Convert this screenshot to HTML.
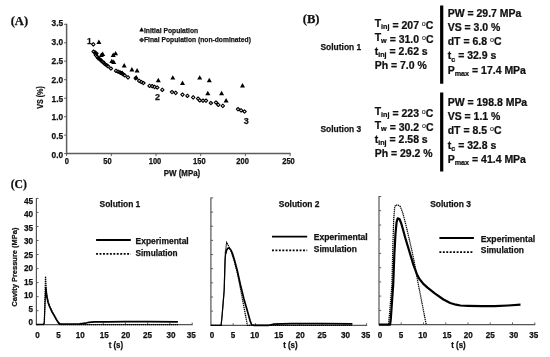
<!DOCTYPE html>
<html><head><meta charset="utf-8"><title>Figure</title>
<style>
html,body{margin:0;padding:0;background:#fff}
svg{display:block}
text{font-family:"Liberation Sans",sans-serif;font-weight:bold;fill:#111;stroke:#111;stroke-width:.25px}
text.se{font-family:"Liberation Serif",serif}
</style></head><body>
<svg width="550" height="357" viewBox="0 0 550 357">
<rect width="550" height="357" fill="#fff"/>
<!-- Panel A -->
<text x="10.7" y="25.1" font-size="13.0" textLength="17.4" lengthAdjust="spacingAndGlyphs" class="se">(A)</text>
<g stroke="#5c5c5c" stroke-width="1.5" fill="none">
<path d="M66.6 23.810000000000002V153.6H290.6"/>
<path stroke-width="1" d="M64.1 153.6H66.6M64.1 135.1H66.6M64.1 116.7H66.6M64.1 98.2H66.6M64.1 79.7H66.6M64.1 61.2H66.6M64.1 42.8H66.6M64.1 24.3H66.6M66.6 153.6V156.1M111.3 153.6V156.1M156.0 153.6V156.1M200.7 153.6V156.1M245.4 153.6V156.1M290.1 153.6V156.1"/>
</g>
<text x="63.2" y="158.0" font-size="8.5" text-anchor="end" textLength="11.6" lengthAdjust="spacingAndGlyphs">0.0</text>
<text x="63.2" y="139.2" font-size="8.5" text-anchor="end" textLength="11.6" lengthAdjust="spacingAndGlyphs">0.5</text>
<text x="63.2" y="120.3" font-size="8.5" text-anchor="end" textLength="11.6" lengthAdjust="spacingAndGlyphs">1.0</text>
<text x="63.2" y="101.5" font-size="8.5" text-anchor="end" textLength="11.6" lengthAdjust="spacingAndGlyphs">1.5</text>
<text x="63.2" y="82.6" font-size="8.5" text-anchor="end" textLength="11.6" lengthAdjust="spacingAndGlyphs">2.0</text>
<text x="63.2" y="63.8" font-size="8.5" text-anchor="end" textLength="11.6" lengthAdjust="spacingAndGlyphs">2.5</text>
<text x="63.2" y="45.0" font-size="8.5" text-anchor="end" textLength="11.6" lengthAdjust="spacingAndGlyphs">3.0</text>
<text x="63.2" y="26.1" font-size="8.5" text-anchor="end" textLength="11.6" lengthAdjust="spacingAndGlyphs">3.5</text>
<text x="66.8" y="164.3" font-size="8.5" text-anchor="middle" textLength="4.2" lengthAdjust="spacingAndGlyphs">0</text>
<text x="107.5" y="164.3" font-size="8.5" text-anchor="middle" textLength="8.4" lengthAdjust="spacingAndGlyphs">50</text>
<text x="155" y="164.3" font-size="8.5" text-anchor="middle" textLength="12.6" lengthAdjust="spacingAndGlyphs">100</text>
<text x="199.3" y="164.3" font-size="8.5" text-anchor="middle" textLength="12.6" lengthAdjust="spacingAndGlyphs">150</text>
<text x="242.6" y="164.3" font-size="8.5" text-anchor="middle" textLength="12.6" lengthAdjust="spacingAndGlyphs">200</text>
<text x="288.5" y="164.3" font-size="8.5" text-anchor="middle" textLength="12.6" lengthAdjust="spacingAndGlyphs">250</text>
<text x="182" y="175.6" font-size="8.5" text-anchor="middle" textLength="36.4" lengthAdjust="spacingAndGlyphs">PW (MPa)</text>
<text transform="translate(43.2 97.5) rotate(-90)" font-size="8.5" text-anchor="middle" textLength="22.5" lengthAdjust="spacingAndGlyphs">VS (%)</text>
<path d="M141.6 27.2l2.3 4.2h-4.6z" fill="#000"/>
<path d="M141.6 37.9l2 2.1l-2 2.1l-2-2.1z" fill="#444" stroke="#000" stroke-width=".8"/>
<text x="144" y="33.2" font-size="8.1" textLength="54.2" lengthAdjust="spacingAndGlyphs">Initial Population</text>
<text x="144" y="42.2" font-size="8.1" textLength="106.9" lengthAdjust="spacingAndGlyphs">Final Population (non-dominated)</text>
<path d="M93.3 42.7l1.7 1.7l-1.7 1.7l-1.7-1.7zM93.6 50.0l1.7 1.7l-1.7 1.7l-1.7-1.7zM95.3 50.8l1.7 1.7l-1.7 1.7l-1.7-1.7zM96.4 51.8l1.7 1.7l-1.7 1.7l-1.7-1.7zM95.7 53.2l1.7 1.7l-1.7 1.7l-1.7-1.7zM97.1 55.0l1.7 1.7l-1.7 1.7l-1.7-1.7zM98.1 56.5l1.7 1.7l-1.7 1.7l-1.7-1.7zM99.5 57.4l1.7 1.7l-1.7 1.7l-1.7-1.7zM100.9 58.4l1.7 1.7l-1.7 1.7l-1.7-1.7zM102.0 59.8l1.7 1.7l-1.7 1.7l-1.7-1.7zM103.7 60.9l1.7 1.7l-1.7 1.7l-1.7-1.7zM104.8 62.3l1.7 1.7l-1.7 1.7l-1.7-1.7zM106.5 63.5l1.7 1.7l-1.7 1.7l-1.7-1.7zM107.9 64.4l1.7 1.7l-1.7 1.7l-1.7-1.7zM110.9 66.8l1.7 1.7l-1.7 1.7l-1.7-1.7zM116.0 69.1l1.7 1.7l-1.7 1.7l-1.7-1.7zM118.1 70.0l1.7 1.7l-1.7 1.7l-1.7-1.7zM120.0 70.7l1.7 1.7l-1.7 1.7l-1.7-1.7zM121.6 71.5l1.7 1.7l-1.7 1.7l-1.7-1.7zM123.0 72.4l1.7 1.7l-1.7 1.7l-1.7-1.7zM124.7 73.6l1.7 1.7l-1.7 1.7l-1.7-1.7zM128.0 75.7l1.7 1.7l-1.7 1.7l-1.7-1.7zM135.7 76.4l1.7 1.7l-1.7 1.7l-1.7-1.7zM139.2 79.2l1.7 1.7l-1.7 1.7l-1.7-1.7zM141.3 80.3l1.7 1.7l-1.7 1.7l-1.7-1.7zM143.4 81.3l1.7 1.7l-1.7 1.7l-1.7-1.7zM149.5 84.1l1.7 1.7l-1.7 1.7l-1.7-1.7zM152.2 84.5l1.7 1.7l-1.7 1.7l-1.7-1.7zM154.5 85.2l1.7 1.7l-1.7 1.7l-1.7-1.7zM157.2 85.8l1.7 1.7l-1.7 1.7l-1.7-1.7zM162.3 88.1l1.7 1.7l-1.7 1.7l-1.7-1.7zM172.0 90.3l1.7 1.7l-1.7 1.7l-1.7-1.7zM175.7 91.2l1.7 1.7l-1.7 1.7l-1.7-1.7zM182.5 93.0l1.7 1.7l-1.7 1.7l-1.7-1.7zM187.4 94.1l1.7 1.7l-1.7 1.7l-1.7-1.7zM193.2 95.7l1.7 1.7l-1.7 1.7l-1.7-1.7zM198.1 97.0l1.7 1.7l-1.7 1.7l-1.7-1.7zM199.7 98.6l1.7 1.7l-1.7 1.7l-1.7-1.7zM203.0 99.0l1.7 1.7l-1.7 1.7l-1.7-1.7zM206.0 99.0l1.7 1.7l-1.7 1.7l-1.7-1.7zM210.9 101.3l1.7 1.7l-1.7 1.7l-1.7-1.7zM216.0 100.8l1.7 1.7l-1.7 1.7l-1.7-1.7zM218.3 103.1l1.7 1.7l-1.7 1.7l-1.7-1.7zM222.8 104.2l1.7 1.7l-1.7 1.7l-1.7-1.7zM238.0 107.5l1.7 1.7l-1.7 1.7l-1.7-1.7zM241.1 108.7l1.7 1.7l-1.7 1.7l-1.7-1.7zM244.5 109.8l1.7 1.7l-1.7 1.7l-1.7-1.7z" fill="#fff" stroke="#000" stroke-width="1.1" stroke-linejoin="round"/>
<path d="M98.9 39.6l2.5 4.4h-5zM102.7 51.6l2.5 4.4h-5zM101.3 52.6l2.5 4.4h-5zM115.6 50.9l2.5 4.4h-5zM113.2 52.6l2.5 4.4h-5zM111.8 58.7l2.5 4.4h-5zM113.7 59.6l2.5 4.4h-5zM124.2 63.1l2.5 4.4h-5zM131.9 67.1l2.5 4.4h-5zM137.1 68.0l2.5 4.4h-5zM136.4 75.1l2.5 4.4h-5zM122.3 70.4l2.5 4.4h-5zM158.3 77.8l2.5 4.4h-5zM172.8 75.2l2.5 4.4h-5zM182.5 80.5l2.5 4.4h-5zM199.7 75.2l2.5 4.4h-5zM209.3 77.8l2.5 4.4h-5zM207.8 90.8l2.5 4.4h-5zM221.6 90.8l2.5 4.4h-5zM226.1 98.0l2.5 4.4h-5zM242.5 83.0l2.5 4.4h-5z" fill="#000"/>
<text x="89.3" y="43.7" font-size="8.4" text-anchor="middle">1</text>
<text x="157.4" y="99.7" font-size="9" text-anchor="middle">2</text>
<text x="246.3" y="123.6" font-size="9" text-anchor="middle">3</text>
<!-- Panel B -->
<text x="302.7" y="23.1" font-size="12.9" textLength="16.8" lengthAdjust="spacingAndGlyphs" class="se">(B)</text>
<path d="M441.7 5.6V83.8M441.7 92.4V171.6" stroke="#000" stroke-width="3.2"/>
<text x="320.5" y="49.6" font-size="9.6" textLength="40.7" lengthAdjust="spacingAndGlyphs">Solution 1</text>
<text x="320.5" y="131.6" font-size="9.6" textLength="40.7" lengthAdjust="spacingAndGlyphs">Solution 3</text>
<text transform="translate(374.7 26.7) scale(0.99 1)" font-size="10.6">T<tspan font-size="7.3" dy="2.4">inj</tspan><tspan dy="-2.4"></tspan> = 207 <tspan font-size="7.2" font-weight="normal" stroke-width=".1" dy="-3.5">o</tspan><tspan dy="3.5">C</tspan></text>
<text transform="translate(374.7 40.7) scale(0.99 1)" font-size="10.6">T<tspan font-size="7.3" dy="2.4">w</tspan><tspan dy="-2.4"></tspan> = 31.0 <tspan font-size="7.2" font-weight="normal" stroke-width=".1" dy="-3.5">o</tspan><tspan dy="3.5">C</tspan></text>
<text transform="translate(374.7 54.7) scale(0.99 1)" font-size="10.6">t<tspan font-size="7.3" dy="2.4">inj</tspan><tspan dy="-2.4"> = 2.62 s</tspan></text>
<text transform="translate(374.7 68.7) scale(0.99 1)" font-size="10.6">Ph = 7.0 %</text>
<text transform="translate(447.7 16.5) scale(0.99 1)" font-size="10.6">PW = 29.7 MPa</text>
<text transform="translate(447.7 30.8) scale(0.99 1)" font-size="10.6">VS = 3.0 %</text>
<text transform="translate(447.7 45.1) scale(0.99 1)" font-size="10.6">dT = 6.8 <tspan font-size="7.2" font-weight="normal" stroke-width=".1" dy="-3.5">o</tspan><tspan dy="3.5">C</tspan></text>
<text transform="translate(447.7 59.4) scale(0.99 1)" font-size="10.6">t<tspan font-size="7.3" dy="2.4">c</tspan><tspan dy="-2.4"> = 32.9 s</tspan></text>
<text transform="translate(447.7 73.7) scale(0.99 1)" font-size="10.6">P<tspan font-size="7.3" dy="2.4">max</tspan><tspan dy="-2.4"> = 17.4 MPa</tspan></text>
<text transform="translate(374.7 115) scale(0.99 1)" font-size="10.6">T<tspan font-size="7.3" dy="2.4">inj</tspan><tspan dy="-2.4"></tspan> = 223 <tspan font-size="7.2" font-weight="normal" stroke-width=".1" dy="-3.5">o</tspan><tspan dy="3.5">C</tspan></text>
<text transform="translate(374.7 128.9) scale(0.99 1)" font-size="10.6">T<tspan font-size="7.3" dy="2.4">w</tspan><tspan dy="-2.4"></tspan> = 30.2 <tspan font-size="7.2" font-weight="normal" stroke-width=".1" dy="-3.5">o</tspan><tspan dy="3.5">C</tspan></text>
<text transform="translate(374.7 142.9) scale(0.99 1)" font-size="10.6">t<tspan font-size="7.3" dy="2.4">inj</tspan><tspan dy="-2.4"> = 2.58 s</tspan></text>
<text transform="translate(374.7 156.8) scale(0.99 1)" font-size="10.6">Ph = 29.2 %</text>
<text transform="translate(447.7 105.9) scale(0.99 1)" font-size="10.6">PW = 198.8 MPa</text>
<text transform="translate(447.7 120.1) scale(0.99 1)" font-size="10.6">VS = 1.1 %</text>
<text transform="translate(447.7 134.3) scale(0.99 1)" font-size="10.6">dT = 8.5 <tspan font-size="7.2" font-weight="normal" stroke-width=".1" dy="-3.5">o</tspan><tspan dy="3.5">C</tspan></text>
<text transform="translate(447.7 148.5) scale(0.99 1)" font-size="10.6">t<tspan font-size="7.3" dy="2.4">c</tspan><tspan dy="-2.4"> = 32.8 s</tspan></text>
<text transform="translate(447.7 162.7) scale(0.99 1)" font-size="10.6">P<tspan font-size="7.3" dy="2.4">max</tspan><tspan dy="-2.4"> = 41.4 MPa</tspan></text>
<!-- Panel C -->
<text x="10.7" y="187.5" font-size="13.0" textLength="16.3" lengthAdjust="spacingAndGlyphs" class="se">(C)</text>
<g stroke="#555" stroke-width="1.2" fill="none">
<path d="M36.4 197.9V324.7H192.7"/>
<path stroke-width=".9" d="M36.4 324.7h2.2M36.4 310.7h2.2M36.4 296.6h2.2M36.4 282.6h2.2M36.4 268.6h2.2M36.4 254.5h2.2M36.4 240.5h2.2M36.4 226.5h2.2M36.4 212.4h2.2M36.4 198.4h2.2M58.6 324.7v-2.2M80.9 324.7v-2.2M103.2 324.7v-2.2M125.4 324.7v-2.2M147.7 324.7v-2.2M169.9 324.7v-2.2M192.2 324.7v-2.2"/>
</g>
<path d="M36.4 324.7 L43.5 324.7 L44.4 321.9 L45.5 276.4 L46.6 293.8 L48.0 301.7 L49.8 306.5 L52.0 311.2 L54.2 315.2 L56.4 319.1 L58.6 322.7 L60.0 324.7 L177.9 324.7" fill="none" stroke="#000" stroke-width="1.25" stroke-dasharray="1.3 .7"/>
<path d="M36.4 324.3 L43.5 324.3 L44.2 323.3 L45.1 302.2 L45.7 288.2" fill="none" stroke="#000" stroke-width="1.15" stroke-linejoin="round"/>
<path d="M45.7 288.2 L46.6 295.2 L48.0 302.2 L49.8 307.0 L52.0 311.8 L54.2 315.7 L56.4 319.6 L58.6 323.0 L60.4 324.0 L63.1 324.1 L78.7 324.0 L82.2 323.7 L85.3 323.2 L88.9 322.3 L94.2 321.9 L107.6 321.8 L125.4 321.6 L147.7 321.6 L177.9 321.8" fill="none" stroke="#000" stroke-width="1.7" stroke-linejoin="round"/>
<text x="37.4" y="338.0" font-size="8.3" text-anchor="middle" textLength="4.5" lengthAdjust="spacingAndGlyphs">0</text>
<text x="58.4" y="338.0" font-size="8.3" text-anchor="middle" textLength="4.5" lengthAdjust="spacingAndGlyphs">5</text>
<text x="80.2" y="338.0" font-size="8.3" text-anchor="middle" textLength="9.0" lengthAdjust="spacingAndGlyphs">10</text>
<text x="104.3" y="338.0" font-size="8.3" text-anchor="middle" textLength="9.0" lengthAdjust="spacingAndGlyphs">15</text>
<text x="125.7" y="338.0" font-size="8.3" text-anchor="middle" textLength="9.0" lengthAdjust="spacingAndGlyphs">20</text>
<text x="147.6" y="338.0" font-size="8.3" text-anchor="middle" textLength="9.0" lengthAdjust="spacingAndGlyphs">25</text>
<text x="171.1" y="338.0" font-size="8.3" text-anchor="middle" textLength="9.0" lengthAdjust="spacingAndGlyphs">30</text>
<text x="191.2" y="338.0" font-size="8.3" text-anchor="middle" textLength="9.0" lengthAdjust="spacingAndGlyphs">35</text>
<text x="115.9" y="348.0" font-size="8.2" text-anchor="middle" textLength="14.5" lengthAdjust="spacingAndGlyphs">t (s)</text>
<text x="33.0" y="325.2" font-size="8.3" text-anchor="end" textLength="4.5" lengthAdjust="spacingAndGlyphs">0</text>
<text x="33.0" y="311.7" font-size="8.3" text-anchor="end" textLength="4.5" lengthAdjust="spacingAndGlyphs">5</text>
<text x="33.0" y="298.2" font-size="8.3" text-anchor="end" textLength="9.1" lengthAdjust="spacingAndGlyphs">10</text>
<text x="33.0" y="284.8" font-size="8.3" text-anchor="end" textLength="9.1" lengthAdjust="spacingAndGlyphs">15</text>
<text x="33.0" y="271.3" font-size="8.3" text-anchor="end" textLength="9.1" lengthAdjust="spacingAndGlyphs">20</text>
<text x="33.0" y="257.8" font-size="8.3" text-anchor="end" textLength="9.1" lengthAdjust="spacingAndGlyphs">25</text>
<text x="33.0" y="244.3" font-size="8.3" text-anchor="end" textLength="9.1" lengthAdjust="spacingAndGlyphs">30</text>
<text x="33.0" y="230.8" font-size="8.3" text-anchor="end" textLength="9.1" lengthAdjust="spacingAndGlyphs">35</text>
<text x="33.0" y="217.4" font-size="8.3" text-anchor="end" textLength="9.1" lengthAdjust="spacingAndGlyphs">40</text>
<text x="33.0" y="203.9" font-size="8.3" text-anchor="end" textLength="9.1" lengthAdjust="spacingAndGlyphs">45</text>
<text x="99.6" y="206.5" font-size="9.2" textLength="40.7" lengthAdjust="spacingAndGlyphs">Solution 1</text>
<path d="M96.1 240.1H130.8" stroke="#000" stroke-width="2.0"/>
<path d="M96.1 253.8H130.8" stroke="#000" stroke-width="1.7" stroke-dasharray="1.9 1.55"/>
<text x="135.6" y="243.7" font-size="8.6" textLength="53.1" lengthAdjust="spacingAndGlyphs">Experimental</text>
<text x="135.6" y="255.5" font-size="8.6" textLength="42" lengthAdjust="spacingAndGlyphs">Simulation</text>
<g stroke="#555" stroke-width="1.2" fill="none">
<path d="M210.9 197.4V325.3H367.1"/>
<path stroke-width=".9" d="M210.9 325.3h2.2M210.9 311.1h2.2M210.9 297.0h2.2M210.9 282.8h2.2M210.9 268.7h2.2M210.9 254.5h2.2M210.9 240.4h2.2M210.9 226.2h2.2M210.9 212.1h2.2M210.9 197.9h2.2M233.2 325.3v-2.2M255.4 325.3v-2.2M277.6 325.3v-2.2M299.9 325.3v-2.2M322.1 325.3v-2.2M344.4 325.3v-2.2M366.6 325.3v-2.2"/>
</g>
<path d="M210.9 325.3 L221.1 325.3 L222.0 316.8 L224.2 289.9 L224.8 268.7 L225.4 251.7 L226.7 242.6 L228.3 245.5 L230.9 250.8 L234.0 260.2 L237.6 274.3 L239.8 285.1 L243.4 304.1 L247.4 325.3 L352.4 325.3" fill="none" stroke="#000" stroke-width="1.25" stroke-dasharray="1.3 .7"/>
<path d="M210.9 325.3 L221.1 325.3 L222.0 316.8 L224.2 289.9 L224.8 268.7 L225.1 259.3 L225.7 253.7" fill="none" stroke="#000" stroke-width="1.15" stroke-linejoin="round"/>
<path d="M225.7 253.7 L226.5 250.3 L227.8 248.3 L229.1 248.0 L230.9 250.0 L232.7 254.2 L234.5 260.2 L237.2 270.1 L240.3 284.2 L243.8 298.4 L247.4 311.1 L250.1 320.8 L251.6 324.7 L253.6 325.3 L268.8 325.3 L273.2 324.2 L291.0 323.6 L322.1 323.6 L352.4 323.9" fill="none" stroke="#000" stroke-width="1.7" stroke-linejoin="round"/>
<text x="211.9" y="338.0" font-size="8.3" text-anchor="middle" textLength="4.5" lengthAdjust="spacingAndGlyphs">0</text>
<text x="232.9" y="338.0" font-size="8.3" text-anchor="middle" textLength="4.5" lengthAdjust="spacingAndGlyphs">5</text>
<text x="254.7" y="338.0" font-size="8.3" text-anchor="middle" textLength="9.0" lengthAdjust="spacingAndGlyphs">10</text>
<text x="278.8" y="338.0" font-size="8.3" text-anchor="middle" textLength="9.0" lengthAdjust="spacingAndGlyphs">15</text>
<text x="300.2" y="338.0" font-size="8.3" text-anchor="middle" textLength="9.0" lengthAdjust="spacingAndGlyphs">20</text>
<text x="322.1" y="338.0" font-size="8.3" text-anchor="middle" textLength="9.0" lengthAdjust="spacingAndGlyphs">25</text>
<text x="345.6" y="338.0" font-size="8.3" text-anchor="middle" textLength="9.0" lengthAdjust="spacingAndGlyphs">30</text>
<text x="365.7" y="338.0" font-size="8.3" text-anchor="middle" textLength="9.0" lengthAdjust="spacingAndGlyphs">35</text>
<text x="290.4" y="348.0" font-size="8.2" text-anchor="middle" textLength="14.5" lengthAdjust="spacingAndGlyphs">t (s)</text>
<text x="278.8" y="206.5" font-size="9.2" textLength="40.7" lengthAdjust="spacingAndGlyphs">Solution 2</text>
<path d="M272 236.6H307.2" stroke="#000" stroke-width="1.8"/>
<path d="M272 250.3H307.2" stroke="#000" stroke-width="1.7" stroke-dasharray="1.9 1.55"/>
<text x="313.8" y="240.4" font-size="8.8" textLength="53.9" lengthAdjust="spacingAndGlyphs">Experimental</text>
<text x="313.8" y="251.5" font-size="8.8" textLength="43.1" lengthAdjust="spacingAndGlyphs">Simulation</text>
<g stroke="#555" stroke-width="1.2" fill="none">
<path d="M379.0 196.0V324.6H535.2"/>
<path stroke-width=".9" d="M379.0 324.6h2.2M379.0 310.4h2.2M379.0 296.1h2.2M379.0 281.9h2.2M379.0 267.7h2.2M379.0 253.4h2.2M379.0 239.2h2.2M379.0 225.0h2.2M379.0 210.7h2.2M379.0 196.5h2.2M401.2 324.6v-2.2M423.5 324.6v-2.2M445.8 324.6v-2.2M468.0 324.6v-2.2M490.2 324.6v-2.2M512.5 324.6v-2.2M534.8 324.6v-2.2"/>
</g>
<path d="M379.0 324.6 L388.6 324.6 L391.9 284.7 L392.8 247.7 L393.7 219.3 L394.6 207.9 L395.5 205.0 L398.1 205.0 L400.4 206.7 L402.6 212.4 L405.5 223.3 L409.0 238.1 L412.4 252.9 L415.0 266.0 L417.3 279.1 L426.2 324.6" fill="none" stroke="#000" stroke-width="1.25" stroke-dasharray="1.3 .7"/>
<path d="M379.0 324.6 L390.1 324.6 L390.8 318.9 L393.2 284.7 L394.4 253.4 L395.5 233.5 L396.6 222.1 L397.7 218.4 L399.5 219.0 L401.2 223.3 L403.0 229.5 L405.1 237.2 L409.3 251.2 L413.5 265.1 L416.8 273.9 L419.1 278.5 L423.1 283.6 L427.5 287.6 L435.1 293.6 L443.5 299.5 L450.2 303.0 L456.0 304.7 L460.4 305.5 L468.0 305.8 L481.4 306.1 L494.7 306.1 L508.1 305.5 L520.5 304.7" fill="none" stroke="#000" stroke-width="2.2" stroke-linejoin="round"/>
<text x="380.0" y="338.0" font-size="8.3" text-anchor="middle" textLength="4.5" lengthAdjust="spacingAndGlyphs">0</text>
<text x="401.0" y="338.0" font-size="8.3" text-anchor="middle" textLength="4.5" lengthAdjust="spacingAndGlyphs">5</text>
<text x="422.8" y="338.0" font-size="8.3" text-anchor="middle" textLength="9.0" lengthAdjust="spacingAndGlyphs">10</text>
<text x="446.9" y="338.0" font-size="8.3" text-anchor="middle" textLength="9.0" lengthAdjust="spacingAndGlyphs">15</text>
<text x="468.3" y="338.0" font-size="8.3" text-anchor="middle" textLength="9.0" lengthAdjust="spacingAndGlyphs">20</text>
<text x="490.2" y="338.0" font-size="8.3" text-anchor="middle" textLength="9.0" lengthAdjust="spacingAndGlyphs">25</text>
<text x="513.7" y="338.0" font-size="8.3" text-anchor="middle" textLength="9.0" lengthAdjust="spacingAndGlyphs">30</text>
<text x="533.8" y="338.0" font-size="8.3" text-anchor="middle" textLength="9.0" lengthAdjust="spacingAndGlyphs">35</text>
<text x="458.5" y="348.0" font-size="8.2" text-anchor="middle" textLength="14.5" lengthAdjust="spacingAndGlyphs">t (s)</text>
<text x="430.2" y="206.5" font-size="9.2" textLength="40.7" lengthAdjust="spacingAndGlyphs">Solution 3</text>
<path d="M439.4 238H473.9" stroke="#000" stroke-width="2.1"/>
<path d="M439.4 252.2H473.9" stroke="#000" stroke-width="1.7" stroke-dasharray="1.9 1.55"/>
<text x="480.8" y="241.5" font-size="9.0" textLength="54.3" lengthAdjust="spacingAndGlyphs">Experimental</text>
<text x="480.8" y="252.6" font-size="9.0" textLength="43.2" lengthAdjust="spacingAndGlyphs">Simulation</text>
<text transform="translate(17.4 267.1) rotate(-90)" font-size="8" text-anchor="middle" textLength="79.2" lengthAdjust="spacingAndGlyphs">Cavity Pressure (MPa)</text>
</svg>
</body></html>
